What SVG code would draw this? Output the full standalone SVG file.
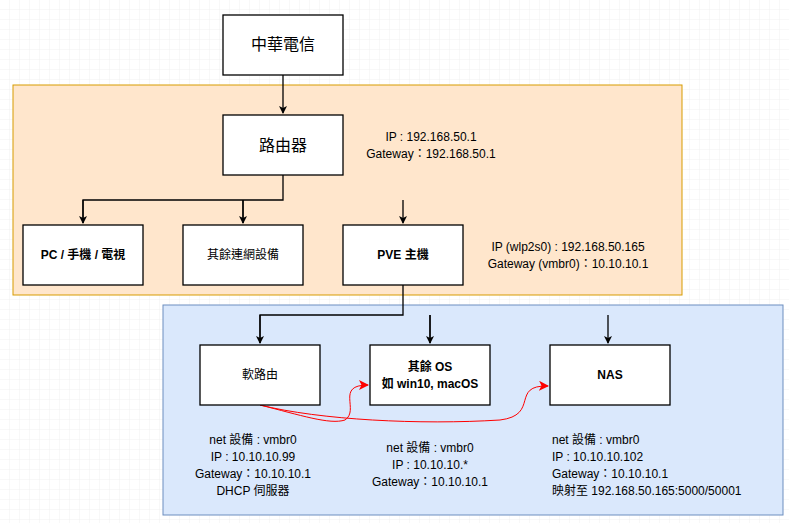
<svg xmlns="http://www.w3.org/2000/svg" width="789" height="523" viewBox="0 0 789 523">
<defs>
<pattern id="g" width="10" height="10" patternUnits="userSpaceOnUse"><path d="M10 0V10H0" fill="none" stroke="#f0f0f0" stroke-width="1"/></pattern>
<marker id="a" markerWidth="8" markerHeight="8" refX="7" refY="4" orient="auto" markerUnits="userSpaceOnUse"><path d="M0 0L8 4L0 8L2 4Z" fill="#000"/></marker>
<marker id="r" markerWidth="10" markerHeight="10" refX="9" refY="5" orient="auto" markerUnits="userSpaceOnUse"><path d="M0 0L10 5L0 10L2.5 5Z" fill="#f00"/></marker>
<style>
.b{fill:#fff;stroke:#000;stroke-width:1.3}
.t{font-family:"Liberation Sans","Noto Sans CJK TC",sans-serif;font-size:12px;fill:#000;text-anchor:middle}
.bd{font-weight:bold}
.c{fill:none;stroke:#000;stroke-width:1.3}
.rc{fill:none;stroke:#f00;stroke-width:1}
</style>
</defs>
<rect width="789" height="523" fill="#fff"/>
<rect width="789" height="523" fill="url(#g)"/>
<rect id="zone1" x="13" y="85" width="669" height="210" fill="#ffe6cc" stroke="#d79b00"/>
<rect id="zone2" x="163" y="305" width="620" height="210" fill="#dae8fc" stroke="#6c8ebf"/>
<g id="connectors">
<path class="c" d="M283 75V113" marker-end="url(#a)"/>
<path class="c" d="M283 175V200H83V223M243 200V223M403 200V223" marker-end="url(#a)"/>
<path class="c" d="M243 200V223" marker-end="url(#a)"/>
<path class="c" d="M83 200V223" marker-end="url(#a)"/>
<path class="c" d="M403 285V315H260V343M430 315V343M608 315V343" marker-end="url(#a)"/>
<path class="c" d="M430 315V343" marker-end="url(#a)"/>
<path class="c" d="M260 315V343" marker-end="url(#a)"/>
<path class="rc" d="M260 405C300 415 330 425 345 420C360 410 335 385 368 385" marker-end="url(#r)"/>
<path class="rc" d="M260 405C320 420 420 425 500 420C540 415 510 385 548 386" marker-end="url(#r)"/>
</g>
<g id="cht"><rect class="b" x="223" y="15" width="120" height="60"/><text class="t" x="283" y="50" style="font-size:16px">中華電信</text></g>
<g id="router"><rect class="b" x="223" y="115" width="120" height="60"/><text class="t" x="283" y="151" style="font-size:16px">路由器</text></g>
<g id="pc"><rect class="b" x="23" y="225" width="120" height="60"/><text class="t bd" x="83" y="259">PC / 手機 / 電視</text></g>
<g id="other"><rect class="b" x="183" y="225" width="120" height="60"/><text class="t" x="243" y="259">其餘連網設備</text></g>
<g id="pve"><rect class="b" x="343" y="225" width="120" height="60"/><text class="t bd" x="403" y="259">PVE 主機</text></g>
<g id="soft"><rect class="b" x="200" y="345" width="120" height="60"/><text class="t" x="260" y="379">軟路由</text></g>
<g id="os"><rect class="b" x="370" y="345" width="120" height="60"/><text class="t bd" x="430" y="371">其餘 OS</text><text class="t bd" x="430" y="388">如 win10, macOS</text></g>
<g id="nas"><rect class="b" x="550" y="345" width="120" height="60"/><text class="t bd" x="610" y="379">NAS</text></g>
<g id="labels">
<text class="t" x="431" y="141">IP : 192.168.50.1</text>
<text class="t" x="431" y="158">Gateway：192.168.50.1</text>
<text class="t" x="568" y="251">IP (wlp2s0) : 192.168.50.165</text>
<text class="t" x="568" y="268">Gateway (vmbr0)：10.10.10.1</text>
<text class="t" x="253" y="444">net 設備 : vmbr0</text>
<text class="t" x="253" y="461">IP : 10.10.10.99</text>
<text class="t" x="253" y="478">Gateway：10.10.10.1</text>
<text class="t" x="253" y="495">DHCP 伺服器</text>
<text class="t" x="430" y="452">net 設備 : vmbr0</text>
<text class="t" x="430" y="469">IP : 10.10.10.*</text>
<text class="t" x="430" y="486">Gateway：10.10.10.1</text>
<text class="t" x="552" y="444" style="text-anchor:start">net 設備 : vmbr0</text>
<text class="t" x="552" y="461" style="text-anchor:start">IP : 10.10.10.102</text>
<text class="t" x="552" y="478" style="text-anchor:start">Gateway：10.10.10.1</text>
<text class="t" x="552" y="495" style="text-anchor:start">映射至 192.168.50.165:5000/50001</text>
</g>
</svg>
